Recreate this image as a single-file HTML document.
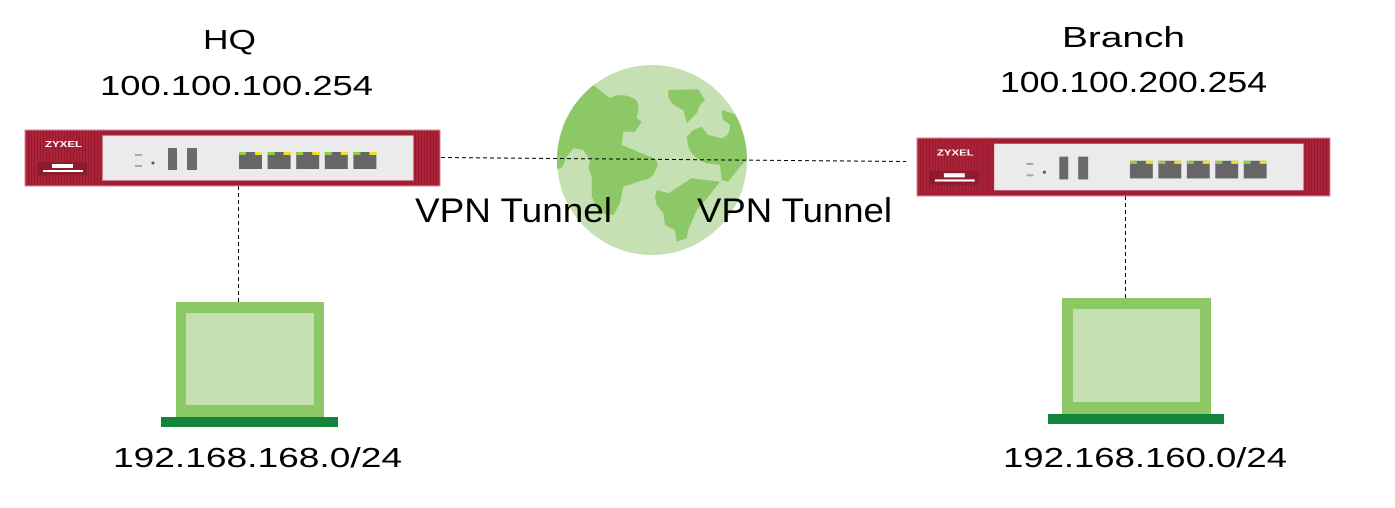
<!DOCTYPE html>
<html><head><meta charset="utf-8"><style>
html,body{margin:0;padding:0;background:#fff;}
svg{display:block;}
text{font-family:"Liberation Sans","DejaVu Sans",sans-serif;fill:#000;}
</style></head><body>
<svg width="1395" height="508" viewBox="0 0 1395 508" xmlns="http://www.w3.org/2000/svg">
<defs>
  <pattern id="stripes" width="3" height="10" patternUnits="userSpaceOnUse">
    <rect width="3" height="10" fill="#ab2239"/>
    <rect width="1" height="10" fill="#951a2f"/>
  </pattern>
  <clipPath id="globeClip"><circle cx="652" cy="160" r="95"/></clipPath>
  <g id="router">
    <rect x="0" y="0" width="415" height="56" fill="#9e1f34" stroke="#d88a98" stroke-width="1"/>
    <rect x="0.5" y="0.5" width="78" height="55" fill="url(#stripes)"/>
    <rect x="388" y="0.5" width="26.5" height="55" fill="url(#stripes)"/>
    <rect x="78" y="6" width="310" height="44" fill="#ebebeb" stroke="#f3dfe2" stroke-width="1"/>
    <text x="20" y="17" font-size="8" font-weight="bold" style="fill:#fff" textLength="37" lengthAdjust="spacingAndGlyphs">ZYXEL</text>
    <rect x="13" y="32" width="49" height="13" fill="#8f1a2d"/>
    <rect x="27" y="34" width="21" height="4" fill="#fff"/>
    <rect x="18" y="40" width="40" height="2" fill="#fff"/>
    <rect x="110" y="24" width="7" height="2" fill="#aaa"/>
    <rect x="110" y="35" width="7" height="2" fill="#aaa"/>
    <circle cx="128" cy="33" r="1.5" fill="#555"/>
    <rect x="143" y="18" width="9" height="22" fill="#6a6a6a"/>
    <rect x="162" y="18" width="10" height="22" fill="#6a6a6a"/>
    <g fill="#666">
      <rect x="214" y="22" width="23" height="17"/>
      <rect x="242.6" y="22" width="23" height="17"/>
      <rect x="271.2" y="22" width="23" height="17"/>
      <rect x="299.8" y="22" width="23" height="17"/>
      <rect x="328.4" y="22" width="23" height="17"/>
    </g>
    <g fill="#8fd03a">
      <rect x="214" y="22" width="7" height="3"/>
      <rect x="242.6" y="22" width="7" height="3"/>
      <rect x="271.2" y="22" width="7" height="3"/>
      <rect x="299.8" y="22" width="7" height="3"/>
      <rect x="328.4" y="22" width="7" height="3"/>
    </g>
    <g fill="#f0e020">
      <rect x="230" y="22" width="7" height="3"/>
      <rect x="258.6" y="22" width="7" height="3"/>
      <rect x="287.2" y="22" width="7" height="3"/>
      <rect x="315.8" y="22" width="7" height="3"/>
      <rect x="344.4" y="22" width="7" height="3"/>
    </g>
  </g>
</defs>

<circle cx="652" cy="160" r="95" fill="#c5e0b3"/>
<g clip-path="url(#globeClip)" fill="#8dc866">
  <path d="M593.3,85 L610,98.3 Q618,93 630,96.7 Q640,100 638.3,110 L636.7,118.3 L641.7,121.7 L635,131.7 L623.3,131.7 L621.7,145 L650,156.7 Q660,160 656.7,168 Q652,180 643.3,180 L623.3,186.7 L620,203.3 L613.3,215 L600,213.3 L591.7,196.7 L591.7,176.7 L588.3,168.3 L590,160 L583.3,150 L573.3,148.3 L566.7,156.7 L561.7,168.3 L550,170 L550,60 Z"/>
  <path d="M668.3,90 L698.3,89.3 L705,100 L700,105 L696.7,113.3 L686.7,123.3 L683.3,110 Q672,106 668.3,96.7 Z"/>
  <path d="M722.7,110 L731.7,113.3 L760,120 L760,160 L746.7,160 L740,166.7 L728.3,181.7 L721.7,180 L720,165 L706.7,163.3 Q692,158 688.3,146.7 L686.7,136.7 L693.3,130 L701.7,126.7 L708.3,135 L721.7,138.3 Q730,136 730,125 L723.3,120 L721.7,113.3 Z"/>
  <path d="M656.7,190 L668.3,193.3 L691.7,178.3 L720,181.7 L708.3,196.7 L696.7,210 L688.3,230 L686.7,238.3 L676.7,241.7 L675,230 L665,225 L663.3,213.3 L656.7,205 L655,196.7 Z"/>
</g>

<g stroke="#000" stroke-width="1" stroke-dasharray="4,3" fill="none">
  <line x1="441" y1="157.5" x2="906" y2="161.5"/>
  <line x1="238.5" y1="186" x2="238.5" y2="302" shape-rendering="crispEdges"/>
  <line x1="1125.5" y1="196" x2="1125.5" y2="298" shape-rendering="crispEdges"/>
</g>

<use href="#router" transform="translate(25,130)"/>
<use href="#router" transform="translate(917,138) scale(0.995,1.036)"/>

<rect x="176" y="302" width="148" height="115" fill="#8dc866"/>
<rect x="186" y="313" width="128" height="92" fill="#c5e0b0"/>
<rect x="161" y="417" width="177" height="10" fill="#13843c"/>

<rect x="1062" y="298" width="149" height="116" fill="#8dc866"/>
<rect x="1073" y="309" width="127" height="93" fill="#c5e0b0"/>
<rect x="1048" y="414" width="176" height="10" fill="#13843c"/>

<text x="203" y="49" font-size="28" textLength="53" lengthAdjust="spacingAndGlyphs">HQ</text>
<text x="100" y="95" font-size="28" textLength="273" lengthAdjust="spacingAndGlyphs">100.100.100.254</text>
<text x="1062" y="47" font-size="29" textLength="123" lengthAdjust="spacingAndGlyphs">Branch</text>
<text x="1000" y="92" font-size="29" textLength="267" lengthAdjust="spacingAndGlyphs">100.100.200.254</text>
<text x="113" y="467" font-size="28" textLength="289" lengthAdjust="spacingAndGlyphs">192.168.168.0/24</text>
<text x="1003" y="467" font-size="28" textLength="284" lengthAdjust="spacingAndGlyphs">192.168.160.0/24</text>
<text x="415" y="222" font-size="34" textLength="197" lengthAdjust="spacingAndGlyphs">VPN Tunnel</text>
<text x="697" y="222" font-size="34" textLength="195" lengthAdjust="spacingAndGlyphs">VPN Tunnel</text>
</svg>
</body></html>
